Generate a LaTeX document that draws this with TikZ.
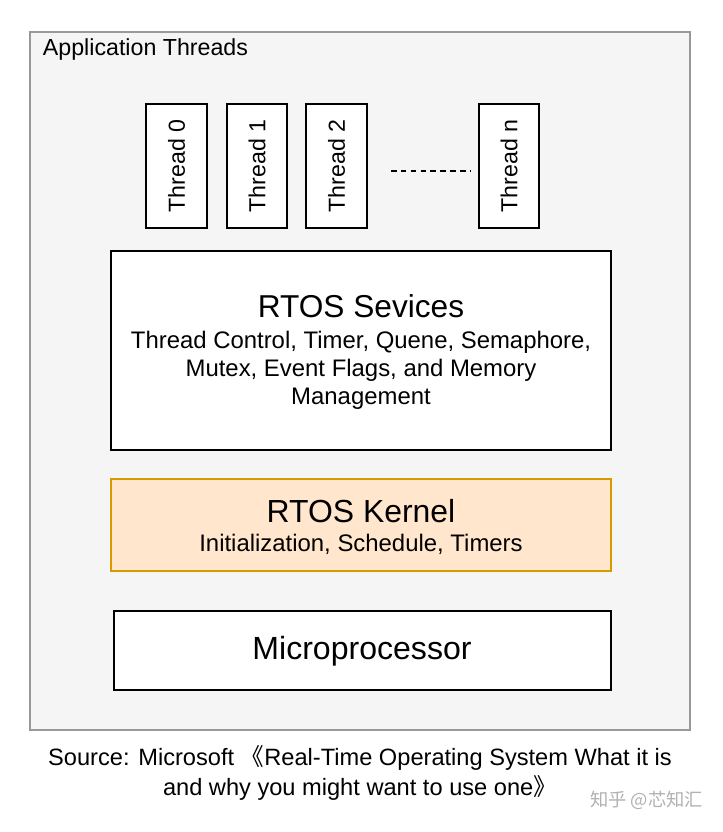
\documentclass[tikz,border=0pt]{standalone}
\usepackage{fontspec}
\setmainfont{Liberation Sans}
\newfontfamily\cjk{Noto Sans CJK SC}
\usetikzlibrary{positioning}
\definecolor{panelgray}{HTML}{F5F5F5}
\definecolor{kernelfill}{HTML}{FFE6CC}
\definecolor{kerneldraw}{HTML}{D79B00}
\tikzset{
  blockbox/.style={draw=black, thick, fill=white},
  threadbox/.style={blockbox},
  threadtext/.style={rotate=90, font=\fontsize{16.5}{18}\selectfont},
}
\begin{document}
\begin{tikzpicture}[x=0.025cm, y=-0.025cm]
\useasboundingbox (0,0) rectangle (722,832);
\fill[white] (0,0) rectangle (722,832);
\draw[draw=gray!80, fill=panelgray, thick] (30,32) rectangle (690,730);
\node[anchor=west, font=\fontsize{16.5}{18}\selectfont] (apptitle) at (38,50) {Application Threads};
% threads
\draw[threadbox] (146,104) rectangle (207,228);
\node[threadtext] (thr0) at (176.5,166) {Thread 0};
\draw[threadbox] (227,104) rectangle (287,228);
\node[threadtext] (thr1) at (257,166) {Thread 1};
\draw[threadbox] (306,104) rectangle (367,228);
\node[threadtext] (thr2) at (336.5,166) {Thread 2};
\draw[threadbox] (479,104) rectangle (539,228);
\node[threadtext] (thrn) at (509,166) {Thread n};
\coordinate (dotsa) at (391,171);
\coordinate (dotsb) at (470,171);
\draw[thick, dash pattern=on 4pt off 3pt] (dotsa) -- (dotsb);
% services
\draw[blockbox] (111,251) rectangle (611,450);
\node[font=\fontsize{22.5}{24}\selectfont] (svctitle) at (361,306) {RTOS Sevices};
\node[align=center, font=\fontsize{17}{20}\selectfont] (svctext) at (361,370)
  {Thread Control, Timer, Quene, Semaphore,\\Mutex, Event Flags, and Memory\\Management};
% kernel
\draw[draw=kerneldraw, thick, fill=kernelfill] (111,479) rectangle (611,571);
\node[font=\fontsize{22.7}{24}\selectfont] (kertitle) at (361,511) {RTOS Kernel};
\node[font=\fontsize{17}{19}\selectfont] (kertext) at (361,544) {Initialization, Schedule, Timers};
% cpu
\draw[blockbox] (114,611) rectangle (611,690);
\node[font=\fontsize{22.8}{24}\selectfont] (cpu) at (362,651) {Microprocessor};
% caption
\node[align=center, font=\fontsize{16.8}{21.5}\selectfont] (caption) at (360,773)
  {Source: Microsoft {\cjk《}Real-Time Operating System What it is\\and why you might want to use one{\cjk》}};
\node[anchor=east, text=gray!60, font=\cjk\fontsize{13}{15}\selectfont] (mark) at (708,800) {知乎 @芯知汇};
\end{tikzpicture}
\end{document}
